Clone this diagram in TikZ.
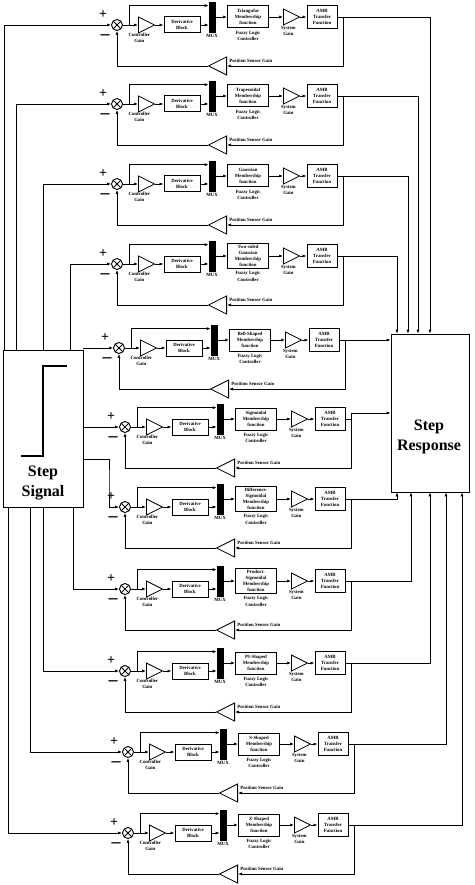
\documentclass[tikz,border=0pt]{standalone}
\usepackage{fontspec}
\setmainfont{Liberation Serif}
\usepackage{tikz}
\usetikzlibrary{shapes.geometric,arrows.meta,positioning,calc}
\tikzset{>={Latex[length=4pt,width=3pt]}}

\begin{document}
\begin{tikzpicture}[x=1pt,y=-1pt,line width=0.7pt,
    blk/.style={draw,line width=1pt,align=center,inner xsep=0.5pt,inner ysep=2pt,font=\fontsize{4.8}{5.9}\selectfont\bfseries},
    amp/.style={draw,line width=0.8pt,isosceles triangle,isosceles triangle stretches,inner sep=0pt,minimum width=#1,minimum height=#1},
    sumj/.style={draw,circle,line width=0.9pt,minimum size=11pt,inner sep=0pt,
      path picture={\draw[line width=0.9pt] (path picture bounding box.north west) -- (path picture bounding box.south east)
        (path picture bounding box.north east) -- (path picture bounding box.south west);}},
    mux/.style={draw,fill=black,minimum width=6pt,minimum height=30pt,inner sep=0pt},
    lbl/.style={font=\fontsize{4.8}{6.8}\selectfont\bfseries,align=center,inner sep=0pt},
    sgn/.style={font=\fontsize{14}{14}\selectfont\bfseries,inner sep=0pt},
    big/.style={font=\fontsize{16}{20}\selectfont\bfseries,align=center,inner sep=0pt}]
\useasboundingbox (0,0) rectangle (474,885);

% step signal and step response blocks
\node[draw,minimum width=80pt,minimum height=157pt] (sig) at (43,428.5) {};
\draw[line width=1.3pt] (21,456) -- (43,456) -- (43,366) -- (67,366);
\node[big] at (43,483) {Step\\Signal};
\node[draw,minimum width=78pt,minimum height=158pt] (resp) at (430,413) {};
\node[big] at (429,437) {Step\\Response};

% one closed loop per membership function
\foreach \i/\y/\dx/\fz in {1/25/0/{Triangular\\Membership\\function},
    2/104/0/{Trapezoidal\\Membership\\function},
    3/184/0/{Gaussian\\Membership\\function},
    4/264/0/{Two-sided\\Gaussian\\Membership\\function},
    5/348/2/{Bell-Shaped\\Membership\\function},
    6/427/8/{Sigmoidal\\Membership\\function},
    7/507/8/{Difference-\\Sigmoidal\\Membership\\function},
    8/589/8/{Product-\\Sigmoidal\\Membership\\function},
    9/671/8/{PI-Shaped\\Membership\\function},
    10/752/11/{S-Shaped\\Membership\\function},
    11/833/11/{Z-Shaped\\Membership\\function}}{
  \node[sgn] at (103+\dx,\y-10) {+};
  \node[sgn,font=\fontsize{18}{18}\selectfont\bfseries] at (105+\dx,\y+12) {\textendash};
  \node[sumj] (s\i) at (117+\dx,\y) {};
  \node[amp=16pt,anchor=west] (g\i) at (138+\dx,\y) {};
  \node[lbl,below=1.5pt of g\i,xshift=-4pt] {Controller\\Gain};
  \node[blk,minimum width=36pt,minimum height=16pt] (d\i) at (182+\dx,\y) {Derivative\\Block};
  \node[mux] (m\i) at (212+\dx,\y-8) {};
  \node[lbl,below=2pt of m\i] {MUX};
  \node[blk,minimum width=41pt,minimum height=22pt] (f\i) at (248+\dx,\y-8) {\fz};
  \node[lbl,below=2pt of f\i] {Fuzzy Logic\\Controller};
  \node[amp=16pt,anchor=west] (k\i) at (283+\dx,\y-8) {};
  \node[lbl,below=2.5pt of k\i] {System\\Gain};
  \node[blk,minimum width=30pt,minimum height=23pt] (a\i) at (322+\dx,\y-8) {AMB\\Transfer\\Function};
  \coordinate (o\i) at (343+\dx,\y-8);
  \coordinate (t\i) at (129+\dx,\y);
  \node[amp=18pt,shape border rotate=180,anchor=east] (h\i) at (227+\dx,\y+41) {};
  \node[lbl,anchor=west] at (229+\dx,\y+36) {Position Sensor Gain};
  \draw[->] (s\i) -- (g\i);
  \draw[->] (g\i.apex) -- (d\i);
  \draw[->] (d\i) -- (d\i -| m\i.west);
  \draw[->] (t\i) |- ([yshift=-4pt]m\i.north west);
  \draw[->] (m\i) -- (f\i);
  \draw[->] (f\i) -- (k\i);
  \draw[->] (k\i.apex) -- (a\i);
  \draw (a\i) -- (o\i);
  \draw[->] (o\i) |- (h\i);
  \draw[->] (h\i) -| (s\i);
}

% step signal to every loop
\draw[->] (4,0 |- sig.north) |- (s1.west);
\draw[->] (16,0 |- sig.north) |- (s2.west);
\draw[->] (43,0 |- sig.north) |- (s3.west);
\draw[->] (70,0 |- sig.north) |- (s4.west);
\draw[->] (sig.east |- s5.west) -- (s5.west);
\draw[->] (sig.east |- s6.west) -- (s6.west);
\draw[->] (sig.east |- 0,459) -| (109,480) |- (s7.west);
\draw[->] (73,0 |- sig.south) |- (s8.west);
\draw[->] (43,0 |- sig.south) |- (s9.west);
\draw[->] (30,0 |- sig.south) |- (s10.west);
\draw[->] (8,0 |- sig.south) |- (s11.west);

% every loop to step response
\draw[->] (o1) -| (430,0 |- resp.north);
\draw[->] (o2) -| (418,0 |- resp.north);
\draw[->] (o3) -| (408,0 |- resp.north);
\draw[->] (o4) -| (397,0 |- resp.north);
\draw[->] (o5) -- (o5 -| resp.west);
\draw[->] (o6) |- (resp.west);
\draw[->] (o7) -| (397,0 |- resp.south);
\draw[->] (o8) -| (411,0 |- resp.south);
\draw[->] (o9) -| (430,0 |- resp.south);
\draw[->] (o10) -| (446,0 |- resp.south);
\draw[->] (o11) -| (462,0 |- resp.south);
\end{tikzpicture}
\end{document}
